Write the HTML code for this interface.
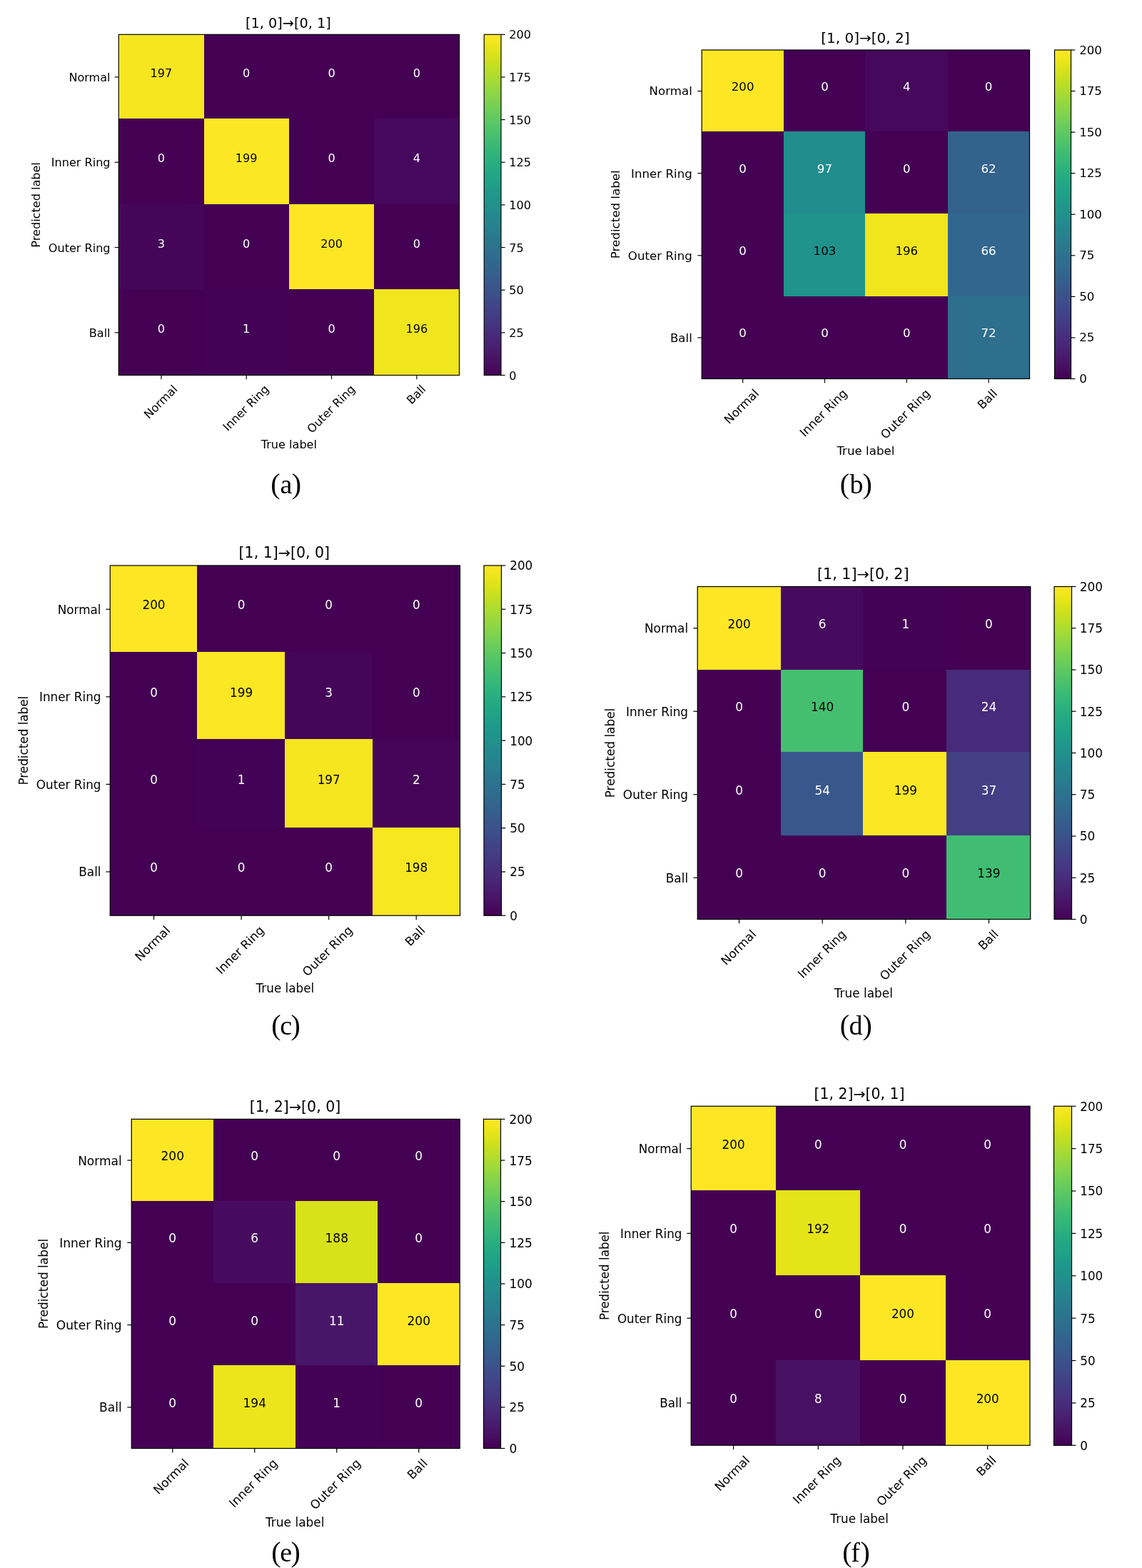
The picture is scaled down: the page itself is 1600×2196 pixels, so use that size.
<!DOCTYPE html>
<html lang="en">
<head>
<meta charset="utf-8">
<title>Confusion matrices</title>
<style>
html,body{margin:0;padding:0;background:#fff;}
body{width:1600px;height:2196px;overflow:hidden;}
svg{display:block;}
.cap{font-family:"Liberation Serif","DejaVu Serif",serif;fill:#000;}
</style>
</head>
<body>
<svg width="1600" height="2196" viewBox="0 0 1600 2196">
<defs><linearGradient id="vg" x1="0" y1="1" x2="0" y2="0"><stop offset="0.0000" stop-color="#440154"/><stop offset="0.0312" stop-color="#470d60"/><stop offset="0.0625" stop-color="#48186a"/><stop offset="0.0938" stop-color="#482374"/><stop offset="0.1250" stop-color="#472d7b"/><stop offset="0.1562" stop-color="#453781"/><stop offset="0.1875" stop-color="#424086"/><stop offset="0.2188" stop-color="#3e4989"/><stop offset="0.2500" stop-color="#3b528b"/><stop offset="0.2812" stop-color="#375b8d"/><stop offset="0.3125" stop-color="#33638d"/><stop offset="0.3438" stop-color="#2f6b8e"/><stop offset="0.3750" stop-color="#2c728e"/><stop offset="0.4062" stop-color="#297a8e"/><stop offset="0.4375" stop-color="#26828e"/><stop offset="0.4688" stop-color="#23898e"/><stop offset="0.5000" stop-color="#21918c"/><stop offset="0.5312" stop-color="#1f988b"/><stop offset="0.5625" stop-color="#1fa088"/><stop offset="0.5938" stop-color="#22a785"/><stop offset="0.6250" stop-color="#28ae80"/><stop offset="0.6562" stop-color="#32b67a"/><stop offset="0.6875" stop-color="#3fbc73"/><stop offset="0.7188" stop-color="#4ec36b"/><stop offset="0.7500" stop-color="#5ec962"/><stop offset="0.7812" stop-color="#70cf57"/><stop offset="0.8125" stop-color="#84d44b"/><stop offset="0.8438" stop-color="#98d83e"/><stop offset="0.8750" stop-color="#addc30"/><stop offset="0.9062" stop-color="#c2df23"/><stop offset="0.9375" stop-color="#d8e219"/><stop offset="0.9688" stop-color="#ece51b"/><stop offset="1.0000" stop-color="#fde725"/></linearGradient></defs>
<rect x="0" y="0" width="1600" height="2196" fill="#fff"/>
<!-- panel a -->
<g font-family='"DejaVu Sans", "Liberation Sans", sans-serif' font-size="16.083" fill="#000">
<g shape-rendering="crispEdges">
<rect x="166" y="48" width="120" height="118" fill="#f6e620"/>
<rect x="286" y="48" width="119" height="118" fill="#440154"/>
<rect x="405" y="48" width="119" height="118" fill="#440154"/>
<rect x="524" y="48" width="120" height="118" fill="#440154"/>
<rect x="166" y="166" width="120" height="120" fill="#440154"/>
<rect x="286" y="166" width="119" height="120" fill="#fbe723"/>
<rect x="405" y="166" width="119" height="120" fill="#440154"/>
<rect x="524" y="166" width="120" height="120" fill="#46085c"/>
<rect x="166" y="286" width="120" height="119" fill="#450559"/>
<rect x="286" y="286" width="119" height="119" fill="#440154"/>
<rect x="405" y="286" width="119" height="119" fill="#fde725"/>
<rect x="524" y="286" width="120" height="119" fill="#440154"/>
<rect x="166" y="405" width="120" height="121" fill="#440154"/>
<rect x="286" y="405" width="119" height="121" fill="#440256"/>
<rect x="405" y="405" width="119" height="121" fill="#440154"/>
<rect x="524" y="405" width="120" height="121" fill="#f1e51d"/>
</g>
<rect x="166.25" y="48.30" width="477.25" height="477.20" fill="none" stroke="#000" stroke-width="1.158"/>
<line x1="225.91" y1="525.50" x2="225.91" y2="531.13" stroke="#000" stroke-width="1.158"/>
<line x1="166.25" y1="107.95" x2="160.62" y2="107.95" stroke="#000" stroke-width="1.158"/>
<text x="154.59" y="114.06" text-anchor="end">Normal</text>
<text transform="translate(208.47 587.15) rotate(-45)">Normal</text>
<line x1="345.22" y1="525.50" x2="345.22" y2="531.13" stroke="#000" stroke-width="1.158"/>
<line x1="166.25" y1="227.25" x2="160.62" y2="227.25" stroke="#000" stroke-width="1.158"/>
<text x="154.59" y="233.36" text-anchor="end">Inner Ring</text>
<text transform="translate(319.08 604.55) rotate(-45)">Inner Ring</text>
<line x1="464.53" y1="525.50" x2="464.53" y2="531.13" stroke="#000" stroke-width="1.158"/>
<line x1="166.25" y1="346.55" x2="160.62" y2="346.55" stroke="#000" stroke-width="1.158"/>
<text x="154.59" y="352.66" text-anchor="end">Outer Ring</text>
<text transform="translate(436.97 607.39) rotate(-45)">Outer Ring</text>
<line x1="583.84" y1="525.50" x2="583.84" y2="531.13" stroke="#000" stroke-width="1.158"/>
<line x1="166.25" y1="465.85" x2="160.62" y2="465.85" stroke="#000" stroke-width="1.158"/>
<text x="154.59" y="471.96" text-anchor="end">Ball</text>
<text transform="translate(576.44 567.09) rotate(-45)">Ball</text>
<text x="225.91" y="107.95" text-anchor="middle" fill="#000">197</text>
<text x="345.22" y="107.95" text-anchor="middle" fill="#fff">0</text>
<text x="464.53" y="107.95" text-anchor="middle" fill="#fff">0</text>
<text x="583.84" y="107.95" text-anchor="middle" fill="#fff">0</text>
<text x="225.91" y="227.25" text-anchor="middle" fill="#fff">0</text>
<text x="345.22" y="227.25" text-anchor="middle" fill="#000">199</text>
<text x="464.53" y="227.25" text-anchor="middle" fill="#fff">0</text>
<text x="583.84" y="227.25" text-anchor="middle" fill="#fff">4</text>
<text x="225.91" y="346.55" text-anchor="middle" fill="#fff">3</text>
<text x="345.22" y="346.55" text-anchor="middle" fill="#fff">0</text>
<text x="464.53" y="346.55" text-anchor="middle" fill="#000">200</text>
<text x="583.84" y="346.55" text-anchor="middle" fill="#fff">0</text>
<text x="225.91" y="465.85" text-anchor="middle" fill="#fff">0</text>
<text x="345.22" y="465.85" text-anchor="middle" fill="#fff">1</text>
<text x="464.53" y="465.85" text-anchor="middle" fill="#fff">0</text>
<text x="583.84" y="465.85" text-anchor="middle" fill="#000">196</text>
<text x="404.88" y="628.41" text-anchor="middle">True label</text>
<text transform="translate(56.49 286.90) rotate(-90)" text-anchor="middle">Predicted label</text>
<text x="403.88" y="38.95" text-anchor="middle" font-size="19.300">[1, 0]→[0, 1]</text>
<rect x="678.25" y="48.30" width="23.75" height="477.20" fill="url(#vg)" stroke="#000" stroke-width="1.158"/>
<line x1="702.00" y1="525.50" x2="707.63" y2="525.50" stroke="#000" stroke-width="1.158"/>
<text x="713.26" y="531.61">0</text>
<line x1="702.00" y1="465.85" x2="707.63" y2="465.85" stroke="#000" stroke-width="1.158"/>
<text x="713.26" y="471.96">25</text>
<line x1="702.00" y1="406.20" x2="707.63" y2="406.20" stroke="#000" stroke-width="1.158"/>
<text x="713.26" y="412.31">50</text>
<line x1="702.00" y1="346.55" x2="707.63" y2="346.55" stroke="#000" stroke-width="1.158"/>
<text x="713.26" y="352.66">75</text>
<line x1="702.00" y1="286.90" x2="707.63" y2="286.90" stroke="#000" stroke-width="1.158"/>
<text x="713.26" y="293.01">100</text>
<line x1="702.00" y1="227.25" x2="707.63" y2="227.25" stroke="#000" stroke-width="1.158"/>
<text x="713.26" y="233.36">125</text>
<line x1="702.00" y1="167.60" x2="707.63" y2="167.60" stroke="#000" stroke-width="1.158"/>
<text x="713.26" y="173.71">150</text>
<line x1="702.00" y1="107.95" x2="707.63" y2="107.95" stroke="#000" stroke-width="1.158"/>
<text x="713.26" y="114.06">175</text>
<line x1="702.00" y1="48.30" x2="707.63" y2="48.30" stroke="#000" stroke-width="1.158"/>
<text x="713.26" y="54.41">200</text>
</g>
<!-- panel b -->
<g font-family='"DejaVu Sans", "Liberation Sans", sans-serif' font-size="16.667" fill="#000">
<g shape-rendering="crispEdges">
<rect x="983" y="70" width="115" height="114" fill="#fde725"/>
<rect x="1098" y="70" width="114" height="114" fill="#440154"/>
<rect x="1212" y="70" width="116" height="114" fill="#46085c"/>
<rect x="1328" y="70" width="114" height="114" fill="#440154"/>
<rect x="983" y="184" width="115" height="115" fill="#440154"/>
<rect x="1098" y="184" width="114" height="115" fill="#228d8d"/>
<rect x="1212" y="184" width="116" height="115" fill="#440154"/>
<rect x="1328" y="184" width="114" height="115" fill="#33628d"/>
<rect x="983" y="299" width="115" height="116" fill="#440154"/>
<rect x="1098" y="299" width="114" height="116" fill="#20938c"/>
<rect x="1212" y="299" width="116" height="116" fill="#f1e51d"/>
<rect x="1328" y="299" width="114" height="116" fill="#31678e"/>
<rect x="983" y="415" width="115" height="115" fill="#440154"/>
<rect x="1098" y="415" width="114" height="115" fill="#440154"/>
<rect x="1212" y="415" width="116" height="115" fill="#440154"/>
<rect x="1328" y="415" width="114" height="115" fill="#2e6f8e"/>
</g>
<rect x="983.25" y="70.00" width="459.25" height="460.50" fill="none" stroke="#000" stroke-width="1.200"/>
<line x1="1040.66" y1="530.50" x2="1040.66" y2="536.33" stroke="#000" stroke-width="1.200"/>
<line x1="983.25" y1="127.56" x2="977.42" y2="127.56" stroke="#000" stroke-width="1.200"/>
<text x="969.78" y="133.39" text-anchor="end">Normal</text>
<text transform="translate(1021.59 594.66) rotate(-45)">Normal</text>
<line x1="1155.47" y1="530.50" x2="1155.47" y2="536.33" stroke="#000" stroke-width="1.200"/>
<line x1="983.25" y1="242.69" x2="977.42" y2="242.69" stroke="#000" stroke-width="1.200"/>
<text x="969.78" y="248.52" text-anchor="end">Inner Ring</text>
<text transform="translate(1127.39 612.69) rotate(-45)">Inner Ring</text>
<line x1="1270.28" y1="530.50" x2="1270.28" y2="536.33" stroke="#000" stroke-width="1.200"/>
<line x1="983.25" y1="357.81" x2="977.42" y2="357.81" stroke="#000" stroke-width="1.200"/>
<text x="969.78" y="363.64" text-anchor="end">Outer Ring</text>
<text transform="translate(1240.72 615.64) rotate(-45)">Outer Ring</text>
<line x1="1385.09" y1="530.50" x2="1385.09" y2="536.33" stroke="#000" stroke-width="1.200"/>
<line x1="983.25" y1="472.94" x2="977.42" y2="472.94" stroke="#000" stroke-width="1.200"/>
<text x="969.78" y="478.77" text-anchor="end">Ball</text>
<text transform="translate(1376.42 573.88) rotate(-45)">Ball</text>
<text x="1040.66" y="126.56" text-anchor="middle" fill="#000">200</text>
<text x="1155.47" y="126.56" text-anchor="middle" fill="#fff">0</text>
<text x="1270.28" y="126.56" text-anchor="middle" fill="#fff">4</text>
<text x="1385.09" y="126.56" text-anchor="middle" fill="#fff">0</text>
<text x="1040.66" y="241.69" text-anchor="middle" fill="#fff">0</text>
<text x="1155.47" y="241.69" text-anchor="middle" fill="#fff">97</text>
<text x="1270.28" y="241.69" text-anchor="middle" fill="#fff">0</text>
<text x="1385.09" y="241.69" text-anchor="middle" fill="#fff">62</text>
<text x="1040.66" y="356.81" text-anchor="middle" fill="#fff">0</text>
<text x="1155.47" y="356.81" text-anchor="middle" fill="#000">103</text>
<text x="1270.28" y="356.81" text-anchor="middle" fill="#000">196</text>
<text x="1385.09" y="356.81" text-anchor="middle" fill="#fff">66</text>
<text x="1040.66" y="471.94" text-anchor="middle" fill="#fff">0</text>
<text x="1155.47" y="471.94" text-anchor="middle" fill="#fff">0</text>
<text x="1270.28" y="471.94" text-anchor="middle" fill="#fff">0</text>
<text x="1385.09" y="471.94" text-anchor="middle" fill="#fff">72</text>
<text x="1212.88" y="637.32" text-anchor="middle">True label</text>
<text transform="translate(867.98 300.25) rotate(-90)" text-anchor="middle">Predicted label</text>
<text x="1212.38" y="60.00" text-anchor="middle" font-size="20.000">[1, 0]→[0, 2]</text>
<rect x="1477.50" y="70.00" width="23.00" height="460.50" fill="url(#vg)" stroke="#000" stroke-width="1.200"/>
<line x1="1500.50" y1="530.50" x2="1506.33" y2="530.50" stroke="#000" stroke-width="1.200"/>
<text x="1512.17" y="536.03">0</text>
<line x1="1500.50" y1="472.94" x2="1506.33" y2="472.94" stroke="#000" stroke-width="1.200"/>
<text x="1512.17" y="478.47">25</text>
<line x1="1500.50" y1="415.38" x2="1506.33" y2="415.38" stroke="#000" stroke-width="1.200"/>
<text x="1512.17" y="420.91">50</text>
<line x1="1500.50" y1="357.81" x2="1506.33" y2="357.81" stroke="#000" stroke-width="1.200"/>
<text x="1512.17" y="363.34">75</text>
<line x1="1500.50" y1="300.25" x2="1506.33" y2="300.25" stroke="#000" stroke-width="1.200"/>
<text x="1512.17" y="305.78">100</text>
<line x1="1500.50" y1="242.69" x2="1506.33" y2="242.69" stroke="#000" stroke-width="1.200"/>
<text x="1512.17" y="248.22">125</text>
<line x1="1500.50" y1="185.12" x2="1506.33" y2="185.12" stroke="#000" stroke-width="1.200"/>
<text x="1512.17" y="190.66">150</text>
<line x1="1500.50" y1="127.56" x2="1506.33" y2="127.56" stroke="#000" stroke-width="1.200"/>
<text x="1512.17" y="133.09">175</text>
<line x1="1500.50" y1="70.00" x2="1506.33" y2="70.00" stroke="#000" stroke-width="1.200"/>
<text x="1512.17" y="75.53">200</text>
</g>
<!-- panel c -->
<g font-family='"DejaVu Sans", "Liberation Sans", sans-serif' font-size="16.806" fill="#000">
<g shape-rendering="crispEdges">
<rect x="154" y="792" width="122" height="121" fill="#fde725"/>
<rect x="276" y="792" width="123" height="121" fill="#440154"/>
<rect x="399" y="792" width="123" height="121" fill="#440154"/>
<rect x="522" y="792" width="122" height="121" fill="#440154"/>
<rect x="154" y="913" width="122" height="122" fill="#440154"/>
<rect x="276" y="913" width="123" height="122" fill="#fbe723"/>
<rect x="399" y="913" width="123" height="122" fill="#450559"/>
<rect x="522" y="913" width="122" height="122" fill="#440154"/>
<rect x="154" y="1035" width="122" height="124" fill="#440154"/>
<rect x="276" y="1035" width="123" height="124" fill="#440256"/>
<rect x="399" y="1035" width="123" height="124" fill="#f6e620"/>
<rect x="522" y="1035" width="122" height="124" fill="#450457"/>
<rect x="154" y="1159" width="122" height="123" fill="#440154"/>
<rect x="276" y="1159" width="123" height="123" fill="#440154"/>
<rect x="399" y="1159" width="123" height="123" fill="#440154"/>
<rect x="522" y="1159" width="122" height="123" fill="#f8e621"/>
</g>
<rect x="154.25" y="792.00" width="490.25" height="490.25" fill="none" stroke="#000" stroke-width="1.210"/>
<line x1="215.53" y1="1282.25" x2="215.53" y2="1288.13" stroke="#000" stroke-width="1.210"/>
<line x1="154.25" y1="853.28" x2="148.37" y2="853.28" stroke="#000" stroke-width="1.210"/>
<text x="141.49" y="859.67" text-anchor="end">Normal</text>
<text transform="translate(196.31 1347.04) rotate(-45)">Normal</text>
<line x1="338.09" y1="1282.25" x2="338.09" y2="1288.13" stroke="#000" stroke-width="1.210"/>
<line x1="154.25" y1="975.84" x2="148.37" y2="975.84" stroke="#000" stroke-width="1.210"/>
<text x="141.49" y="982.23" text-anchor="end">Inner Ring</text>
<text transform="translate(309.78 1365.22) rotate(-45)">Inner Ring</text>
<line x1="460.66" y1="1282.25" x2="460.66" y2="1288.13" stroke="#000" stroke-width="1.210"/>
<line x1="154.25" y1="1098.41" x2="148.37" y2="1098.41" stroke="#000" stroke-width="1.210"/>
<text x="141.49" y="1104.79" text-anchor="end">Outer Ring</text>
<text transform="translate(430.86 1368.20) rotate(-45)">Outer Ring</text>
<line x1="583.22" y1="1282.25" x2="583.22" y2="1288.13" stroke="#000" stroke-width="1.210"/>
<line x1="154.25" y1="1220.97" x2="148.37" y2="1220.97" stroke="#000" stroke-width="1.210"/>
<text x="141.49" y="1227.35" text-anchor="end">Ball</text>
<text transform="translate(574.48 1326.08) rotate(-45)">Ball</text>
<text x="215.53" y="853.28" text-anchor="middle" fill="#000">200</text>
<text x="338.09" y="853.28" text-anchor="middle" fill="#fff">0</text>
<text x="460.66" y="853.28" text-anchor="middle" fill="#fff">0</text>
<text x="583.22" y="853.28" text-anchor="middle" fill="#fff">0</text>
<text x="215.53" y="975.84" text-anchor="middle" fill="#fff">0</text>
<text x="338.09" y="975.84" text-anchor="middle" fill="#000">199</text>
<text x="460.66" y="975.84" text-anchor="middle" fill="#fff">3</text>
<text x="583.22" y="975.84" text-anchor="middle" fill="#fff">0</text>
<text x="215.53" y="1098.41" text-anchor="middle" fill="#fff">0</text>
<text x="338.09" y="1098.41" text-anchor="middle" fill="#fff">1</text>
<text x="460.66" y="1098.41" text-anchor="middle" fill="#000">197</text>
<text x="583.22" y="1098.41" text-anchor="middle" fill="#fff">2</text>
<text x="215.53" y="1220.97" text-anchor="middle" fill="#fff">0</text>
<text x="338.09" y="1220.97" text-anchor="middle" fill="#fff">0</text>
<text x="460.66" y="1220.97" text-anchor="middle" fill="#fff">0</text>
<text x="583.22" y="1220.97" text-anchor="middle" fill="#000">198</text>
<text x="399.38" y="1390.16" text-anchor="middle">True label</text>
<text transform="translate(39.05 1037.12) rotate(-90)" text-anchor="middle">Predicted label</text>
<text x="398.38" y="780.92" text-anchor="middle" font-size="20.530">[1, 1]→[0, 0]</text>
<rect x="678.00" y="792.00" width="24.50" height="490.25" fill="url(#vg)" stroke="#000" stroke-width="1.210"/>
<line x1="702.50" y1="1282.25" x2="708.38" y2="1282.25" stroke="#000" stroke-width="1.210"/>
<text x="714.26" y="1288.63">0</text>
<line x1="702.50" y1="1220.97" x2="708.38" y2="1220.97" stroke="#000" stroke-width="1.210"/>
<text x="714.26" y="1227.35">25</text>
<line x1="702.50" y1="1159.69" x2="708.38" y2="1159.69" stroke="#000" stroke-width="1.210"/>
<text x="714.26" y="1166.07">50</text>
<line x1="702.50" y1="1098.41" x2="708.38" y2="1098.41" stroke="#000" stroke-width="1.210"/>
<text x="714.26" y="1104.79">75</text>
<line x1="702.50" y1="1037.12" x2="708.38" y2="1037.12" stroke="#000" stroke-width="1.210"/>
<text x="714.26" y="1043.51">100</text>
<line x1="702.50" y1="975.84" x2="708.38" y2="975.84" stroke="#000" stroke-width="1.210"/>
<text x="714.26" y="982.23">125</text>
<line x1="702.50" y1="914.56" x2="708.38" y2="914.56" stroke="#000" stroke-width="1.210"/>
<text x="714.26" y="920.95">150</text>
<line x1="702.50" y1="853.28" x2="708.38" y2="853.28" stroke="#000" stroke-width="1.210"/>
<text x="714.26" y="859.67">175</text>
<line x1="702.50" y1="792.00" x2="708.38" y2="792.00" stroke="#000" stroke-width="1.210"/>
<text x="714.26" y="798.38">200</text>
</g>
<!-- panel d -->
<g font-family='"DejaVu Sans", "Liberation Sans", sans-serif' font-size="16.917" fill="#000">
<g shape-rendering="crispEdges">
<rect x="977" y="821" width="117" height="117" fill="#fde725"/>
<rect x="1094" y="821" width="115" height="117" fill="#460b5e"/>
<rect x="1209" y="821" width="117" height="117" fill="#440256"/>
<rect x="1326" y="821" width="118" height="117" fill="#440154"/>
<rect x="977" y="938" width="117" height="115" fill="#440154"/>
<rect x="1094" y="938" width="115" height="115" fill="#44bf70"/>
<rect x="1209" y="938" width="117" height="115" fill="#440154"/>
<rect x="1326" y="938" width="118" height="115" fill="#472a7a"/>
<rect x="977" y="1053" width="117" height="117" fill="#440154"/>
<rect x="1094" y="1053" width="115" height="117" fill="#38588c"/>
<rect x="1209" y="1053" width="117" height="117" fill="#fbe723"/>
<rect x="1326" y="1053" width="118" height="117" fill="#423f85"/>
<rect x="977" y="1170" width="117" height="117" fill="#440154"/>
<rect x="1094" y="1170" width="115" height="117" fill="#440154"/>
<rect x="1209" y="1170" width="117" height="117" fill="#440154"/>
<rect x="1326" y="1170" width="118" height="117" fill="#40bd72"/>
</g>
<rect x="977.25" y="821.50" width="466.50" height="466.00" fill="none" stroke="#000" stroke-width="1.218"/>
<line x1="1035.56" y1="1287.50" x2="1035.56" y2="1293.42" stroke="#000" stroke-width="1.218"/>
<line x1="977.25" y1="879.75" x2="971.33" y2="879.75" stroke="#000" stroke-width="1.218"/>
<text x="964.11" y="886.18" text-anchor="end">Normal</text>
<text transform="translate(1017.22 1352.71) rotate(-45)">Normal</text>
<line x1="1152.19" y1="1287.50" x2="1152.19" y2="1293.42" stroke="#000" stroke-width="1.218"/>
<line x1="977.25" y1="996.25" x2="971.33" y2="996.25" stroke="#000" stroke-width="1.218"/>
<text x="964.11" y="1002.68" text-anchor="end">Inner Ring</text>
<text transform="translate(1124.70 1371.01) rotate(-45)">Inner Ring</text>
<line x1="1268.81" y1="1287.50" x2="1268.81" y2="1293.42" stroke="#000" stroke-width="1.218"/>
<line x1="977.25" y1="1112.75" x2="971.33" y2="1112.75" stroke="#000" stroke-width="1.218"/>
<text x="964.11" y="1119.18" text-anchor="end">Outer Ring</text>
<text transform="translate(1239.83 1374.01) rotate(-45)">Outer Ring</text>
<line x1="1385.44" y1="1287.50" x2="1385.44" y2="1293.42" stroke="#000" stroke-width="1.218"/>
<line x1="977.25" y1="1229.25" x2="971.33" y2="1229.25" stroke="#000" stroke-width="1.218"/>
<text x="964.11" y="1235.68" text-anchor="end">Ball</text>
<text transform="translate(1377.65 1331.61) rotate(-45)">Ball</text>
<text x="1035.56" y="879.75" text-anchor="middle" fill="#000">200</text>
<text x="1152.19" y="879.75" text-anchor="middle" fill="#fff">6</text>
<text x="1268.81" y="879.75" text-anchor="middle" fill="#fff">1</text>
<text x="1385.44" y="879.75" text-anchor="middle" fill="#fff">0</text>
<text x="1035.56" y="996.25" text-anchor="middle" fill="#fff">0</text>
<text x="1152.19" y="996.25" text-anchor="middle" fill="#000">140</text>
<text x="1268.81" y="996.25" text-anchor="middle" fill="#fff">0</text>
<text x="1385.44" y="996.25" text-anchor="middle" fill="#fff">24</text>
<text x="1035.56" y="1112.75" text-anchor="middle" fill="#fff">0</text>
<text x="1152.19" y="1112.75" text-anchor="middle" fill="#fff">54</text>
<text x="1268.81" y="1112.75" text-anchor="middle" fill="#000">199</text>
<text x="1385.44" y="1112.75" text-anchor="middle" fill="#fff">37</text>
<text x="1035.56" y="1229.25" text-anchor="middle" fill="#fff">0</text>
<text x="1152.19" y="1229.25" text-anchor="middle" fill="#fff">0</text>
<text x="1268.81" y="1229.25" text-anchor="middle" fill="#fff">0</text>
<text x="1385.44" y="1229.25" text-anchor="middle" fill="#000">139</text>
<text x="1209.80" y="1396.62" text-anchor="middle">True label</text>
<text transform="translate(861.30 1054.50) rotate(-90)" text-anchor="middle">Predicted label</text>
<text x="1209.25" y="810.60" text-anchor="middle" font-size="20.706">[1, 1]→[0, 2]</text>
<rect x="1477.00" y="821.50" width="24.50" height="466.00" fill="url(#vg)" stroke="#000" stroke-width="1.218"/>
<line x1="1501.50" y1="1287.50" x2="1507.42" y2="1287.50" stroke="#000" stroke-width="1.218"/>
<text x="1512.64" y="1293.93">0</text>
<line x1="1501.50" y1="1229.25" x2="1507.42" y2="1229.25" stroke="#000" stroke-width="1.218"/>
<text x="1512.64" y="1235.68">25</text>
<line x1="1501.50" y1="1171.00" x2="1507.42" y2="1171.00" stroke="#000" stroke-width="1.218"/>
<text x="1512.64" y="1177.43">50</text>
<line x1="1501.50" y1="1112.75" x2="1507.42" y2="1112.75" stroke="#000" stroke-width="1.218"/>
<text x="1512.64" y="1119.18">75</text>
<line x1="1501.50" y1="1054.50" x2="1507.42" y2="1054.50" stroke="#000" stroke-width="1.218"/>
<text x="1512.64" y="1060.93">100</text>
<line x1="1501.50" y1="996.25" x2="1507.42" y2="996.25" stroke="#000" stroke-width="1.218"/>
<text x="1512.64" y="1002.68">125</text>
<line x1="1501.50" y1="938.00" x2="1507.42" y2="938.00" stroke="#000" stroke-width="1.218"/>
<text x="1512.64" y="944.43">150</text>
<line x1="1501.50" y1="879.75" x2="1507.42" y2="879.75" stroke="#000" stroke-width="1.218"/>
<text x="1512.64" y="886.18">175</text>
<line x1="1501.50" y1="821.50" x2="1507.42" y2="821.50" stroke="#000" stroke-width="1.218"/>
<text x="1512.64" y="827.93">200</text>
</g>
<!-- panel e -->
<g font-family='"DejaVu Sans", "Liberation Sans", sans-serif' font-size="17.000" fill="#000">
<g shape-rendering="crispEdges">
<rect x="184" y="1567" width="115" height="115" fill="#fde725"/>
<rect x="299" y="1567" width="115" height="115" fill="#440154"/>
<rect x="414" y="1567" width="115" height="115" fill="#440154"/>
<rect x="529" y="1567" width="115" height="115" fill="#440154"/>
<rect x="184" y="1682" width="115" height="115" fill="#440154"/>
<rect x="299" y="1682" width="115" height="115" fill="#460b5e"/>
<rect x="414" y="1682" width="115" height="115" fill="#d8e219"/>
<rect x="529" y="1682" width="115" height="115" fill="#440154"/>
<rect x="184" y="1797" width="115" height="115" fill="#440154"/>
<rect x="299" y="1797" width="115" height="115" fill="#440154"/>
<rect x="414" y="1797" width="115" height="115" fill="#481668"/>
<rect x="529" y="1797" width="115" height="115" fill="#fde725"/>
<rect x="184" y="1912" width="115" height="116" fill="#440154"/>
<rect x="299" y="1912" width="115" height="116" fill="#ece51b"/>
<rect x="414" y="1912" width="115" height="116" fill="#440256"/>
<rect x="529" y="1912" width="115" height="116" fill="#440154"/>
</g>
<rect x="184.25" y="1567.40" width="460.00" height="461.10" fill="none" stroke="#000" stroke-width="1.224"/>
<line x1="241.75" y1="2028.50" x2="241.75" y2="2034.45" stroke="#000" stroke-width="1.224"/>
<line x1="184.25" y1="1625.04" x2="178.30" y2="1625.04" stroke="#000" stroke-width="1.224"/>
<text x="170.65" y="1631.50" text-anchor="end">Normal</text>
<text transform="translate(222.12 2093.83) rotate(-45)">Normal</text>
<line x1="356.75" y1="2028.50" x2="356.75" y2="2034.45" stroke="#000" stroke-width="1.224"/>
<line x1="184.25" y1="1740.31" x2="178.30" y2="1740.31" stroke="#000" stroke-width="1.224"/>
<text x="170.65" y="1746.77" text-anchor="end">Inner Ring</text>
<text transform="translate(327.93 2112.22) rotate(-45)">Inner Ring</text>
<line x1="471.75" y1="2028.50" x2="471.75" y2="2034.45" stroke="#000" stroke-width="1.224"/>
<line x1="184.25" y1="1855.59" x2="178.30" y2="1855.59" stroke="#000" stroke-width="1.224"/>
<text x="170.65" y="1862.05" text-anchor="end">Outer Ring</text>
<text transform="translate(441.42 2115.23) rotate(-45)">Outer Ring</text>
<line x1="586.75" y1="2028.50" x2="586.75" y2="2034.45" stroke="#000" stroke-width="1.224"/>
<line x1="184.25" y1="1970.86" x2="178.30" y2="1970.86" stroke="#000" stroke-width="1.224"/>
<text x="170.65" y="1977.32" text-anchor="end">Ball</text>
<text transform="translate(577.72 2072.63) rotate(-45)">Ball</text>
<text x="241.75" y="1625.04" text-anchor="middle" fill="#000">200</text>
<text x="356.75" y="1625.04" text-anchor="middle" fill="#fff">0</text>
<text x="471.75" y="1625.04" text-anchor="middle" fill="#fff">0</text>
<text x="586.75" y="1625.04" text-anchor="middle" fill="#fff">0</text>
<text x="241.75" y="1740.31" text-anchor="middle" fill="#fff">0</text>
<text x="356.75" y="1740.31" text-anchor="middle" fill="#fff">6</text>
<text x="471.75" y="1740.31" text-anchor="middle" fill="#000">188</text>
<text x="586.75" y="1740.31" text-anchor="middle" fill="#fff">0</text>
<text x="241.75" y="1855.59" text-anchor="middle" fill="#fff">0</text>
<text x="356.75" y="1855.59" text-anchor="middle" fill="#fff">0</text>
<text x="471.75" y="1855.59" text-anchor="middle" fill="#fff">11</text>
<text x="586.75" y="1855.59" text-anchor="middle" fill="#000">200</text>
<text x="241.75" y="1970.86" text-anchor="middle" fill="#fff">0</text>
<text x="356.75" y="1970.86" text-anchor="middle" fill="#000">194</text>
<text x="471.75" y="1970.86" text-anchor="middle" fill="#fff">1</text>
<text x="586.75" y="1970.86" text-anchor="middle" fill="#fff">0</text>
<text x="413.25" y="2137.65" text-anchor="middle">True label</text>
<text transform="translate(67.44 1797.95) rotate(-90)" text-anchor="middle">Predicted label</text>
<text x="413.50" y="1557.20" text-anchor="middle" font-size="20.563">[1, 2]→[0, 0]</text>
<rect x="677.50" y="1567.40" width="24.00" height="461.10" fill="url(#vg)" stroke="#000" stroke-width="1.224"/>
<line x1="701.50" y1="2028.50" x2="707.45" y2="2028.50" stroke="#000" stroke-width="1.224"/>
<text x="713.40" y="2034.96">0</text>
<line x1="701.50" y1="1970.86" x2="707.45" y2="1970.86" stroke="#000" stroke-width="1.224"/>
<text x="713.40" y="1977.32">25</text>
<line x1="701.50" y1="1913.22" x2="707.45" y2="1913.22" stroke="#000" stroke-width="1.224"/>
<text x="713.40" y="1919.68">50</text>
<line x1="701.50" y1="1855.59" x2="707.45" y2="1855.59" stroke="#000" stroke-width="1.224"/>
<text x="713.40" y="1862.05">75</text>
<line x1="701.50" y1="1797.95" x2="707.45" y2="1797.95" stroke="#000" stroke-width="1.224"/>
<text x="713.40" y="1804.41">100</text>
<line x1="701.50" y1="1740.31" x2="707.45" y2="1740.31" stroke="#000" stroke-width="1.224"/>
<text x="713.40" y="1746.77">125</text>
<line x1="701.50" y1="1682.68" x2="707.45" y2="1682.68" stroke="#000" stroke-width="1.224"/>
<text x="713.40" y="1689.13">150</text>
<line x1="701.50" y1="1625.04" x2="707.45" y2="1625.04" stroke="#000" stroke-width="1.224"/>
<text x="713.40" y="1631.50">175</text>
<line x1="701.50" y1="1567.40" x2="707.45" y2="1567.40" stroke="#000" stroke-width="1.224"/>
<text x="713.40" y="1573.86">200</text>
</g>
<!-- panel f -->
<g font-family='"DejaVu Sans", "Liberation Sans", sans-serif' font-size="16.778" fill="#000">
<g shape-rendering="crispEdges">
<rect x="968" y="1549" width="119" height="118" fill="#fde725"/>
<rect x="1087" y="1549" width="118" height="118" fill="#440154"/>
<rect x="1205" y="1549" width="120" height="118" fill="#440154"/>
<rect x="1325" y="1549" width="118" height="118" fill="#440154"/>
<rect x="968" y="1667" width="119" height="119" fill="#440154"/>
<rect x="1087" y="1667" width="118" height="119" fill="#e5e419"/>
<rect x="1205" y="1667" width="120" height="119" fill="#440154"/>
<rect x="1325" y="1667" width="118" height="119" fill="#440154"/>
<rect x="968" y="1786" width="119" height="119" fill="#440154"/>
<rect x="1087" y="1786" width="118" height="119" fill="#440154"/>
<rect x="1205" y="1786" width="120" height="119" fill="#fde725"/>
<rect x="1325" y="1786" width="118" height="119" fill="#440154"/>
<rect x="968" y="1905" width="119" height="119" fill="#440154"/>
<rect x="1087" y="1905" width="118" height="119" fill="#471063"/>
<rect x="1205" y="1905" width="120" height="119" fill="#440154"/>
<rect x="1325" y="1905" width="118" height="119" fill="#fde725"/>
</g>
<rect x="968.25" y="1549.25" width="474.75" height="475.00" fill="none" stroke="#000" stroke-width="1.208"/>
<line x1="1027.59" y1="2024.25" x2="1027.59" y2="2030.12" stroke="#000" stroke-width="1.208"/>
<line x1="968.25" y1="1608.62" x2="962.38" y2="1608.62" stroke="#000" stroke-width="1.208"/>
<text x="955.41" y="1615.00" text-anchor="end">Normal</text>
<text transform="translate(1008.40 2089.14) rotate(-45)">Normal</text>
<line x1="1146.28" y1="2024.25" x2="1146.28" y2="2030.12" stroke="#000" stroke-width="1.208"/>
<line x1="968.25" y1="1727.38" x2="962.38" y2="1727.38" stroke="#000" stroke-width="1.208"/>
<text x="955.41" y="1733.75" text-anchor="end">Inner Ring</text>
<text transform="translate(1118.02 2107.28) rotate(-45)">Inner Ring</text>
<line x1="1264.97" y1="2024.25" x2="1264.97" y2="2030.12" stroke="#000" stroke-width="1.208"/>
<line x1="968.25" y1="1846.12" x2="962.38" y2="1846.12" stroke="#000" stroke-width="1.208"/>
<text x="955.41" y="1852.50" text-anchor="end">Outer Ring</text>
<text transform="translate(1235.22 2110.25) rotate(-45)">Outer Ring</text>
<line x1="1383.66" y1="2024.25" x2="1383.66" y2="2030.12" stroke="#000" stroke-width="1.208"/>
<line x1="968.25" y1="1964.88" x2="962.38" y2="1964.88" stroke="#000" stroke-width="1.208"/>
<text x="955.41" y="1971.25" text-anchor="end">Ball</text>
<text transform="translate(1374.93 2068.21) rotate(-45)">Ball</text>
<text x="1027.59" y="1608.62" text-anchor="middle" fill="#000">200</text>
<text x="1146.28" y="1608.62" text-anchor="middle" fill="#fff">0</text>
<text x="1264.97" y="1608.62" text-anchor="middle" fill="#fff">0</text>
<text x="1383.66" y="1608.62" text-anchor="middle" fill="#fff">0</text>
<text x="1027.59" y="1727.38" text-anchor="middle" fill="#fff">0</text>
<text x="1146.28" y="1727.38" text-anchor="middle" fill="#000">192</text>
<text x="1264.97" y="1727.38" text-anchor="middle" fill="#fff">0</text>
<text x="1383.66" y="1727.38" text-anchor="middle" fill="#fff">0</text>
<text x="1027.59" y="1846.12" text-anchor="middle" fill="#fff">0</text>
<text x="1146.28" y="1846.12" text-anchor="middle" fill="#fff">0</text>
<text x="1264.97" y="1846.12" text-anchor="middle" fill="#000">200</text>
<text x="1383.66" y="1846.12" text-anchor="middle" fill="#fff">0</text>
<text x="1027.59" y="1964.88" text-anchor="middle" fill="#fff">0</text>
<text x="1146.28" y="1964.88" text-anchor="middle" fill="#fff">8</text>
<text x="1264.97" y="1964.88" text-anchor="middle" fill="#fff">0</text>
<text x="1383.66" y="1964.88" text-anchor="middle" fill="#000">200</text>
<text x="1204.12" y="2132.88" text-anchor="middle">True label</text>
<text transform="translate(853.23 1786.75) rotate(-90)" text-anchor="middle">Predicted label</text>
<text x="1204.03" y="1539.18" text-anchor="middle" font-size="20.435">[1, 2]→[0, 1]</text>
<rect x="1476.50" y="1549.25" width="25.00" height="475.00" fill="url(#vg)" stroke="#000" stroke-width="1.208"/>
<line x1="1501.50" y1="2024.25" x2="1507.37" y2="2024.25" stroke="#000" stroke-width="1.208"/>
<text x="1513.24" y="2030.62">0</text>
<line x1="1501.50" y1="1964.88" x2="1507.37" y2="1964.88" stroke="#000" stroke-width="1.208"/>
<text x="1513.24" y="1971.25">25</text>
<line x1="1501.50" y1="1905.50" x2="1507.37" y2="1905.50" stroke="#000" stroke-width="1.208"/>
<text x="1513.24" y="1911.87">50</text>
<line x1="1501.50" y1="1846.12" x2="1507.37" y2="1846.12" stroke="#000" stroke-width="1.208"/>
<text x="1513.24" y="1852.50">75</text>
<line x1="1501.50" y1="1786.75" x2="1507.37" y2="1786.75" stroke="#000" stroke-width="1.208"/>
<text x="1513.24" y="1793.12">100</text>
<line x1="1501.50" y1="1727.38" x2="1507.37" y2="1727.38" stroke="#000" stroke-width="1.208"/>
<text x="1513.24" y="1733.75">125</text>
<line x1="1501.50" y1="1668.00" x2="1507.37" y2="1668.00" stroke="#000" stroke-width="1.208"/>
<text x="1513.24" y="1674.37">150</text>
<line x1="1501.50" y1="1608.62" x2="1507.37" y2="1608.62" stroke="#000" stroke-width="1.208"/>
<text x="1513.24" y="1615.00">175</text>
<line x1="1501.50" y1="1549.25" x2="1507.37" y2="1549.25" stroke="#000" stroke-width="1.208"/>
<text x="1513.24" y="1555.62">200</text>
</g>
<text class="cap" y="690.80"><tspan x="379.14" font-size="40">(</tspan><tspan x="392.56" font-size="38">a</tspan><tspan x="408.74" font-size="40">)</tspan></text>
<text class="cap" y="691.00"><tspan x="1176.84" font-size="40">(</tspan><tspan x="1190.62" font-size="38">b</tspan><tspan x="1208.54" font-size="40">)</tspan></text>
<text class="cap" y="1448.80"><tspan x="380.14" font-size="40">(</tspan><tspan x="392.18" font-size="38">c</tspan><tspan x="407.54" font-size="40">)</tspan></text>
<text class="cap" y="1448.80"><tspan x="1176.84" font-size="40">(</tspan><tspan x="1189.40" font-size="38">d</tspan><tspan x="1208.54" font-size="40">)</tspan></text>
<text class="cap" y="2187.30"><tspan x="380.24" font-size="40">(</tspan><tspan x="392.18" font-size="38">e</tspan><tspan x="407.54" font-size="40">)</tspan></text>
<text class="cap" y="2187.00"><tspan x="1180.14" font-size="40">(</tspan><tspan x="1192.34" font-size="38">f</tspan><tspan x="1205.54" font-size="40">)</tspan></text>
</svg>
</body>
</html>
